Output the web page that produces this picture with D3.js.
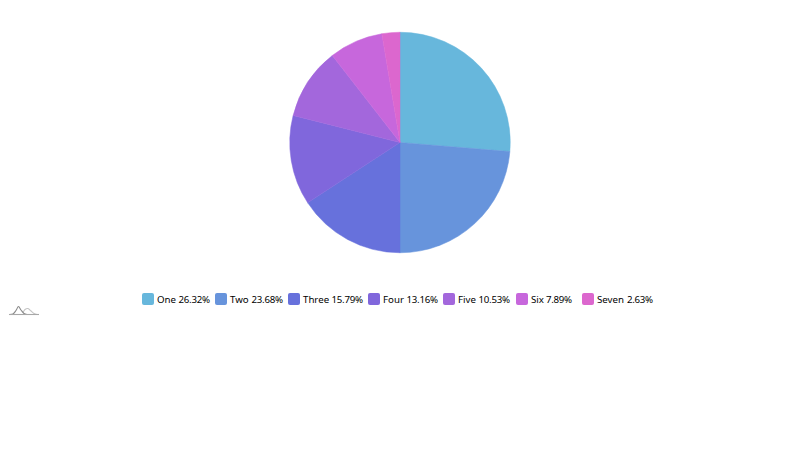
<!DOCTYPE html>
<html>
<head>
<meta charset="utf-8">
<script src="https://cdn.jsdelivr.net/npm/d3@7"></script>
<style>
  html, body { margin: 0; padding: 0; background: #fff; }
  text { font-family: "Noto Sans", "Open Sans", sans-serif; font-size: 9.7px; fill: #000; }
</style>
</head>
<body>
<svg id="chart" width="800" height="450"></svg>
<script>
const categories = ['One', 'Two', 'Three', 'Four', 'Five', 'Six', 'Seven'];
const values = [10, 9, 6, 5, 4, 3, 1];
const percentLabels = ['26.32%', '23.68%', '15.79%', '13.16%', '10.53%', '7.89%', '2.63%'];
const colours = ['#67b7dc', '#6794dc', '#6771dc', '#8067dc', '#a367dc', '#c767dc', '#dc67ce'];
const legendStarts = [142, 215, 288, 368, 443, 516, 582];
const legendWidths = [53, 53, 60, 55, 52, 41, 56];
const percentWidths = [31.5, 31.5, 31.5, 31.5, 31.5, 26, 26];

// little grey logo bottom left, two humps
const logoBig = [[0, 0], [4, -0.5], [7, -4], [9.5, -8], [12, -4.5], [15, -1], [18, 0]];
const logoSmall = [[14, -2], [16, -5], [19, -6], [22, -3.5], [25, -1], [28, 0]];
const logoBase = [[0, 0], [10, 0], [20, 0], [30, 0]];

const svg = d3.select('#chart');

const pie = d3.pie().sort(null);
const arc = d3.arc().innerRadius(0).outerRadius(110.25);
const arcs = pie(values);

svg.append('g')
  .attr('transform', 'translate(400,142.5)')
  .selectAll('path')
  .data(arcs)
  .enter().append('path')
    .attr('d', arc)
    .attr('fill', (d, i) => colours[i])
    .attr('stroke', (d, i) => colours[i])
    .attr('stroke-width', 0.5);

const legend = svg.append('g')
  .selectAll('g')
  .data(categories)
  .enter().append('g')
    .attr('transform', (d, i) => `translate(${legendStarts[i]},293)`);

legend.append('rect')
  .attr('width', 12)
  .attr('height', 12)
  .attr('rx', 2)
  .attr('fill', (d, i) => colours[i]);

legend.append('text')
  .attr('x', 15)
  .attr('y', 10)
  .text(d => d);

legend.append('text')
  .attr('x', (d, i) => 15 + legendWidths[i] - percentWidths[i])
  .attr('y', 10)
  .attr('textLength', (d, i) => percentWidths[i])
  .attr('lengthAdjust', 'spacing')
  .text((d, i) => percentLabels[i]);

const line = d3.line().curve(d3.curveCatmullRom);
const logo = svg.append('g')
  .attr('transform', 'translate(9,314.5)')
  .attr('fill', 'none')
  .attr('stroke-width', 1.1);
logo.append('path').attr('d', line(logoSmall)).attr('stroke', '#c4c4c4');
logo.append('path').attr('d', line(logoBig)).attr('stroke', '#8a8a8a');
logo.append('path').attr('d', line(logoBase)).attr('stroke', '#a8a8a8');
</script>
</body>
</html>
